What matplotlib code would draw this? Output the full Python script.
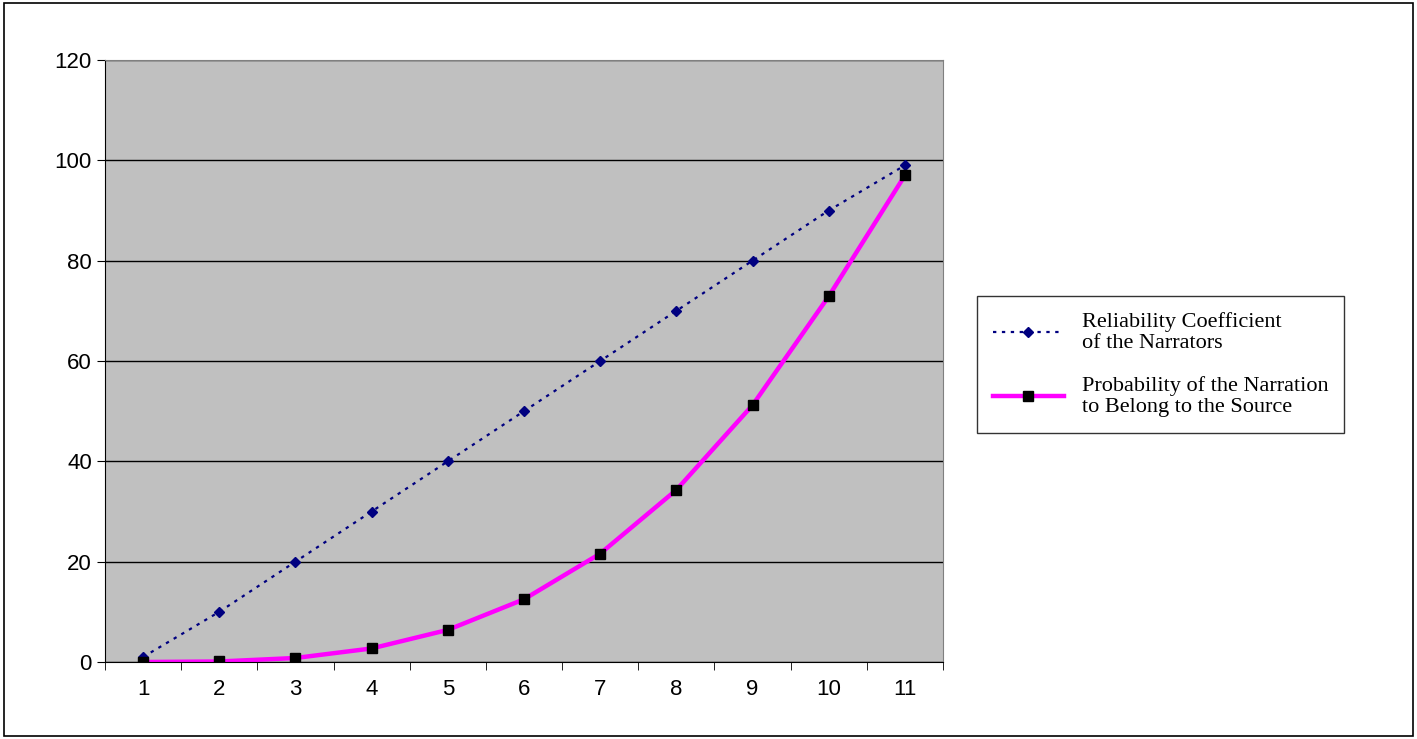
import matplotlib.pyplot as plt
import numpy as np
from matplotlib.patches import Rectangle

categories = list(range(1, 12))
reliability = [1, 10, 20, 30, 40, 50, 60, 70, 80, 90, 99]
probability = [0, 0.1, 0.8, 2.7, 6.4, 12.5, 21.6, 34.3, 51.2, 72.9, 97]

plt.rcParams['font.family'] = ['Liberation Sans', 'DejaVu Sans']

fig = plt.figure(figsize=(14.17, 7.39), dpi=100)
fig.patches.append(Rectangle((0.003, 0.004), 0.994, 0.992, transform=fig.transFigure,
                             fill=False, edgecolor='black', linewidth=1.2))
ax = fig.add_axes([105 / 1417, 1 - 662 / 739, (943 - 105) / 1417, (662 - 60) / 739])
ax.set_facecolor('#c0c0c0')

x = np.array(categories)
l1, = ax.plot(x, reliability, linestyle=(0, (1.5, 2.5)), color='#000080', linewidth=1.6,
              marker='D', markersize=5, markerfacecolor='#000080', markeredgecolor='#000080')
l2, = ax.plot(x, probability, '-', color='#ff00ff', linewidth=3.2,
              marker='s', markersize=7, markerfacecolor='black', markeredgecolor='black')

ax.set_xlim(0.5, 11.5)
ax.set_ylim(0, 120)
ax.set_yticks(range(0, 121, 20))
ax.set_xticks(x)
ax.set_xticks(np.arange(0.5, 12, 1), minor=True)
ax.tick_params(axis='x', which='major', length=0, pad=12, labelsize=16)
ax.tick_params(axis='x', which='minor', length=6, direction='out')
ax.tick_params(axis='y', length=6, direction='out', labelsize=16)
ax.yaxis.grid(True, color='black', linewidth=1)
ax.set_axisbelow(True)
for s in ['top', 'right']:
    ax.spines[s].set_color('#808080')
for s in ['left', 'bottom']:
    ax.spines[s].set_color('black')

fig.legend([l1, l2],
           ['Reliability Coefficient\nof the Narrators',
            'Probability of the Narration\nto Belong to the Source'],
           loc='upper left', bbox_to_anchor=(966 / 1417, 1 - 285 / 739),
           prop={'family': 'Liberation Serif', 'size': 16},
           frameon=True, fancybox=False, edgecolor='black', handlelength=3.2,
           labelspacing=1.0, borderpad=0.7)

fig.savefig('out.png', dpi=100)
